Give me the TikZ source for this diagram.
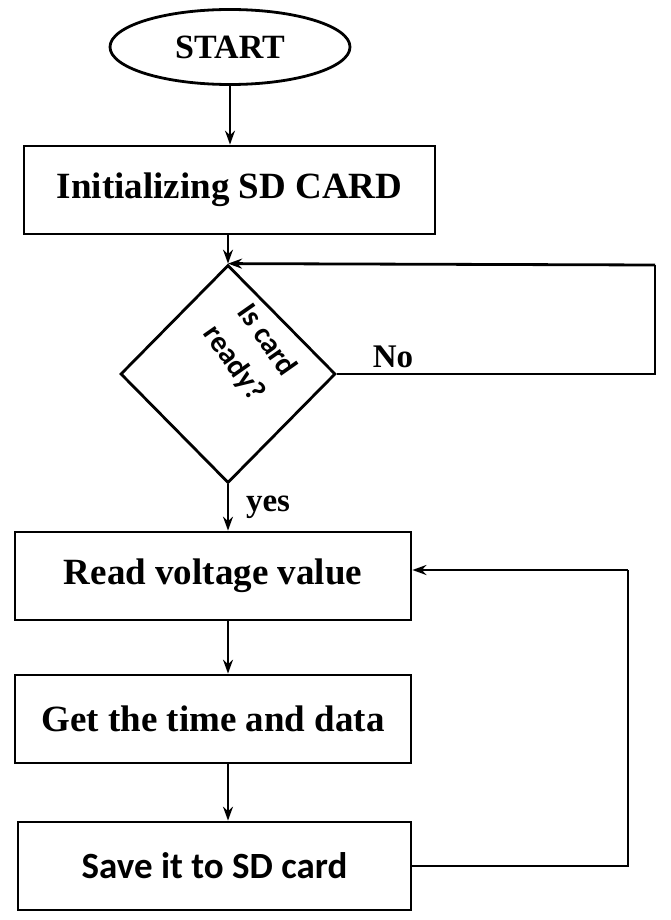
\documentclass[tikz,border=0pt]{standalone}
\usepackage{fontspec}
\setmainfont{Liberation Serif}
\newfontfamily\calib{Carlito}
\usetikzlibrary{shapes.geometric,arrows.meta}
\begin{document}
\begin{tikzpicture}[x=1pt, y=-1pt,
    block/.style={rectangle, draw, line width=2.8pt, minimum width=396pt, minimum height=88pt, font=\bfseries\fontsize{37}{42}\selectfont},
    arrow/.style={-{Stealth[length=14pt, width=10pt]}, line width=1.8pt}
]
\useasboundingbox (0,0) rectangle (671,920);

% Start
\node[ellipse, draw, line width=2.8pt, minimum width=240pt, minimum height=75pt, font=\bfseries\fontsize{34}{38}\selectfont] (start) at (230,47) {START};

% Blocks
\node[block, minimum width=411pt] (init) at (229.5,190) {Initializing SD CARD};
\node[diamond, draw, line width=2.8pt, minimum width=215pt, minimum height=218pt, inner sep=0pt] (ready) at (228,374) {};
\node[rotate=-55, align=center, font=\calib\bfseries\fontsize{30}{34}\selectfont] (readytext) at (250,352) {Is card\\[6pt]ready?};
\node[block] (read) at (213,576) {Read voltage value};
\node[block] (get) at (213,719) {Get the time and data};
\node[block, minimum width=393pt, font=\calib\bfseries\fontsize{37}{42}\selectfont] (save) at (214.5,866) {Save it to SD card};

\coordinate (noA) at (655,378);
\coordinate (noB) at (655,265);
\coordinate (backA) at (628,866);
\coordinate (backB) at (628,570);

% Connectors
\draw[arrow] (start) -- (start |- init.north);
\draw[arrow] (init.south -| ready.north) -- (ready.north);
\draw[line width=2.8pt] (ready.east) -- (ready.east -| noA) -- (noB);
\draw[arrow, line width=2.8pt] (noB) -- (ready.north);
\node[font=\bfseries\fontsize{33}{36}\selectfont] (no) at (393,357) {No};
\draw[arrow] (ready.south) -- (ready.south |- read.north);
\node[font=\bfseries\fontsize{33}{36}\selectfont] (yes) at (268,507) {yes};
\draw[arrow] (read.south -| ready.south) -- (get.north -| ready.south);
\draw[arrow] (get.south -| ready.south) -- (save.north -| ready.south);
\draw[line width=2.8pt] (save.east) -- (backA) -- (backB);
\draw[arrow, line width=2.8pt] (backB) -- (read.east |- backB);
\end{tikzpicture}
\end{document}
